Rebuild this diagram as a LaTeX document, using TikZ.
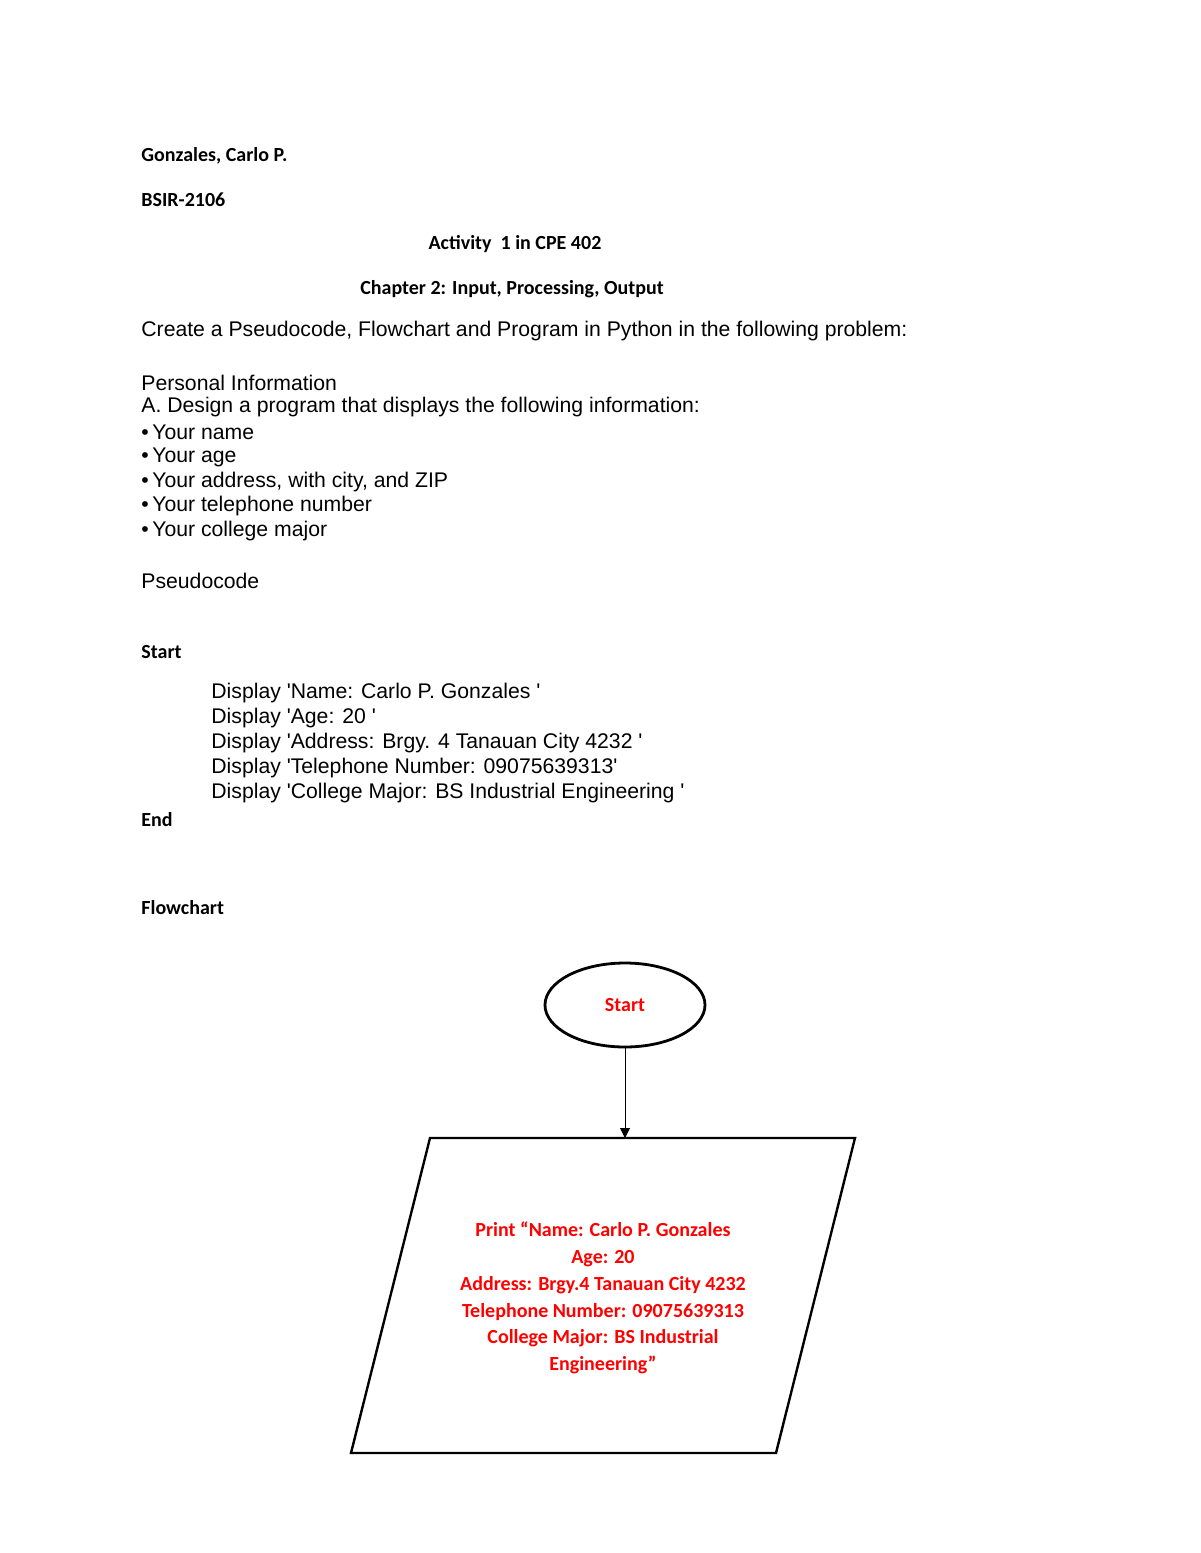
\documentclass[tikz,border=0pt]{standalone}
\usepackage{fontspec}
\setmainfont{Carlito}
\newfontfamily\arialf{Liberation Sans}
\usetikzlibrary{shapes.geometric,arrows.meta}
\begin{document}
\begin{tikzpicture}[x=0.5pt,y=-0.5pt,
  cal/.style={anchor=west,inner sep=0pt,font=\bfseries\fontsize{10}{12}\selectfont},
  ari/.style={anchor=west,inner sep=0pt,font=\arialf\fontsize{10.6}{12}\selectfont},
  red/.style={text=red,font=\bfseries\fontsize{10}{13.4}\selectfont,align=center}]
\useasboundingbox[fill=white] (0,0) rectangle (1200,1553);
\node[cal] (n1) at (141,156) {Gonzales, Carlo P.};
\node[cal] (n2) at (141,200) {BSIR-2106};
\node[cal,anchor=center] (n3) at (515,244) {Activity \ 1 in CPE 402};
\node[cal,anchor=center] (n4) at (512,289) {Chapter 2: Input, Processing, Output};
\node[ari] (t1) at (141,331) {Create a Pseudocode, Flowchart and Program in Python in the following problem:};
\node[ari] (t2) at (141,383) {Personal Information};
\node[ari] (t3) at (141,407) {A. Design a program that displays the following information:};
\node[ari] (t4) at (141,432) {\textbullet\,Your name};
\node[ari] (t5) at (141,457) {\textbullet\,Your age};
\node[ari] (t6) at (141,482) {\textbullet\,Your address, with city, and ZIP};
\node[ari] (t7) at (141,506) {\textbullet\,Your telephone number};
\node[ari] (t8) at (141,531) {\textbullet\,Your college major};
\node[ari] (t9) at (141,581) {Pseudocode};
\node[cal] (s) at (141,652) {Start};
\node[ari] (d1) at (211,693) {Display 'Name: Carlo P. Gonzales '};
\node[ari] (d2) at (211,718) {Display 'Age: 20 '};
\node[ari] (d3) at (211,743) {Display 'Address: Brgy. 4 Tanauan City 4232 '};
\node[ari] (d4) at (211,768) {Display 'Telephone Number: 09075639313'};
\node[ari] (d5) at (211,793) {Display 'College Major: BS Industrial Engineering '};
\node[cal] (e) at (141,820) {End};
\node[cal] (f) at (141,908) {Flowchart};
\node[draw,line width=1.4pt,ellipse,minimum width=80pt,minimum height=42pt,inner sep=0pt,text=red,font=\bfseries\fontsize{10}{12}\selectfont] (st) at (625,1005) {Start};
\draw[line width=1.2pt] (430,1138) -- (855,1138) -- (776,1453) -- (351,1453) -- cycle;
\coordinate (pt) at (625,1138);
\draw[-{Triangle[length=5pt,width=5pt]}] (st.south) -- (pt);
\node[red] (p) at (603,1298) {Print “Name: Carlo P. Gonzales\\Age: 20\\Address: Brgy.4 Tanauan City 4232\\Telephone Number: 09075639313\\College Major: BS Industrial\\Engineering”};
\end{tikzpicture}
\end{document}
